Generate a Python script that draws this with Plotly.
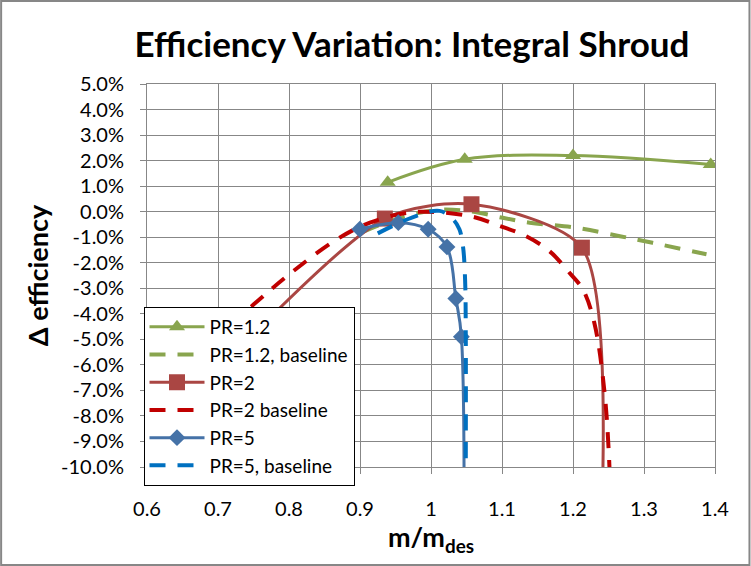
import plotly.graph_objects as go

# ---------------- data (y values in %) ----------------
pr12_x = [0.939, 1.0475, 1.200, 1.394]
pr12_y = [1.15, 2.05, 2.20, 1.85]

pr12b_x = [0.905, 0.950, 1.005, 1.054, 1.101, 1.139, 1.205, 1.266, 1.312, 1.388]
pr12b_y = [-0.78, -0.30, 0.06, 0.02, -0.24, -0.43, -0.63, -0.96, -1.22, -1.67]

pr2_x = [0.630, 0.935, 1.057, 1.2125, 1.2415]
pr2_y = [-8.25, -0.27, 0.29, -1.41, -11.0]

pr2b_x = [0.600, 0.750, 0.806, 0.867, 0.914, 0.974, 1.054, 1.097, 1.134, 1.167,
          1.195, 1.214, 1.230, 1.244, 1.251, 1.253]
pr2b_y = [-7.4, -3.64, -2.33, -1.09, -0.43, -0.02, -0.17, -0.56, -0.96, -1.55,
          -2.39, -3.05, -4.35, -6.97, -9.78, -12.0]

pr5_x = [0.8997, 0.954, 0.996, 1.0225, 1.035, 1.0428, 1.0432]
pr5_y = [-0.69, -0.43, -0.69, -1.38, -3.40, -4.90, -25.0]

pr5b_x = [0.925, 0.974, 1.012, 1.031, 1.040, 1.045, 1.048, 1.049, 1.0488]
pr5b_y = [-0.85, -0.22, 0.03, -0.30, -0.69, -1.35, -2.65, -5.0, -12.0]

y_ticks = [5, 4, 3, 2, 1, 0, -1, -2, -3, -4, -5, -6, -7, -8, -9, -10]
y_tick_text = ["5.0%", "4.0%", "3.0%", "2.0%", "1.0%", "0.0%", "-1.0%", "-2.0%",
               "-3.0%", "-4.0%", "-5.0%", "-6.0%", "-7.0%", "-8.0%", "-9.0%", "-10.0%"]
x_ticks = [0.6, 0.7, 0.8, 0.9, 1.0, 1.1, 1.2, 1.3, 1.4]
x_tick_text = ["0.6", "0.7", "0.8", "0.9", "1", "1.1", "1.2", "1.3", "1.4"]

# ---------------- style ----------------
GREEN = "#89A54E"
RED = "#AA4643"
BLUE = "#4572A7"
RED_D = "#C00000"
BLUE_D = "#0070C0"
GRID = "#878787"
FONT = "Lato"
DASH = "16px,12px"

W, H = 751, 566
L, R, T, B = 147, 35.5, 84, 99
PW = W - L - R
PH = H - T - B

fig = go.Figure()
fig.add_trace(go.Scatter(x=pr12_x, y=pr12_y, name="PR=1.2", mode="lines+markers",
                         line=dict(color=GREEN, width=3, shape="spline"),
                         marker=dict(symbol="triangle-up", size=14, color=GREEN)))
fig.add_trace(go.Scatter(x=pr12b_x, y=pr12b_y, name="PR=1.2, baseline", mode="lines",
                         line=dict(color=GREEN, width=4, dash=DASH, shape="spline")))
fig.add_trace(go.Scatter(x=pr2_x, y=pr2_y, name="PR=2", mode="lines+markers",
                         line=dict(color=RED, width=3, shape="spline", smoothing=0.75),
                         marker=dict(symbol="square", size=16, color=RED)))
fig.add_trace(go.Scatter(x=pr2b_x, y=pr2b_y, name="PR=2 baseline", mode="lines",
                         line=dict(color=RED_D, width=4, dash=DASH, shape="spline")))
fig.add_trace(go.Scatter(x=pr5_x, y=pr5_y, name="PR=5", mode="lines+markers",
                         line=dict(color=BLUE, width=3, shape="spline"),
                         marker=dict(symbol="diamond", size=13, color=BLUE)))
fig.add_trace(go.Scatter(x=pr5b_x, y=pr5b_y, name="PR=5, baseline", mode="lines",
                         line=dict(color=BLUE_D, width=4, dash=DASH, shape="spline")))

def px_x(p):
    return (p - L) / PW

def px_y(p):
    return (H - B - p) / PH

fig.update_layout(
    width=W, height=H,
    margin=dict(l=L, r=R, t=T, b=B),
    paper_bgcolor="white", plot_bgcolor="white",
    font=dict(family=FONT, color="black"),
    title=dict(text="Efficiency Variation: Integral Shroud",
               font=dict(family=FONT, size=35, weight="bold", color="black"),
               x=412 / W, xanchor="center", y=1 - 45 / H, yanchor="middle"),
    xaxis=dict(range=[0.6, 1.4], tickvals=x_ticks, ticktext=x_tick_text,
               showgrid=True, gridcolor=GRID, gridwidth=1, zeroline=False,
               showline=True, linecolor=GRID, linewidth=1, mirror=True,
               ticks="outside", ticklen=6, tickcolor=GRID, ticklabelstandoff=18,
               tickfont=dict(family=FONT, size=20),
               title=dict(text="m/m<sub>des</sub>", standoff=1,
                          font=dict(family=FONT, size=27, weight="bold"))),
    yaxis=dict(range=[-10, 5], tickvals=y_ticks, ticktext=y_tick_text,
               showgrid=True, gridcolor=GRID, gridwidth=1, zeroline=False,
               showline=True, linecolor=GRID, linewidth=1, mirror=True,
               ticks="outside", ticklen=6, tickcolor=GRID, ticklabelstandoff=12,
               tickfont=dict(family=FONT, size=20),
               title=dict(text="Δ efficiency", standoff=4,
                          font=dict(family=FONT, size=27, weight="bold"))),
    legend=dict(x=px_x(143.5), y=px_y(307), xanchor="left", yanchor="top",
                bgcolor="white", bordercolor="black", borderwidth=1,
                font=dict(family=FONT, size=19), itemwidth=55,
                tracegroupgap=0),
    shapes=[dict(type="rect", xref="paper", yref="paper",
                 x0=px_x(1), x1=px_x(750), y0=px_y(565), y1=px_y(1),
                 line=dict(color=GRID, width=2), fillcolor="rgba(0,0,0,0)",
                 layer="above")],
)

fig.write_html("out.html")
